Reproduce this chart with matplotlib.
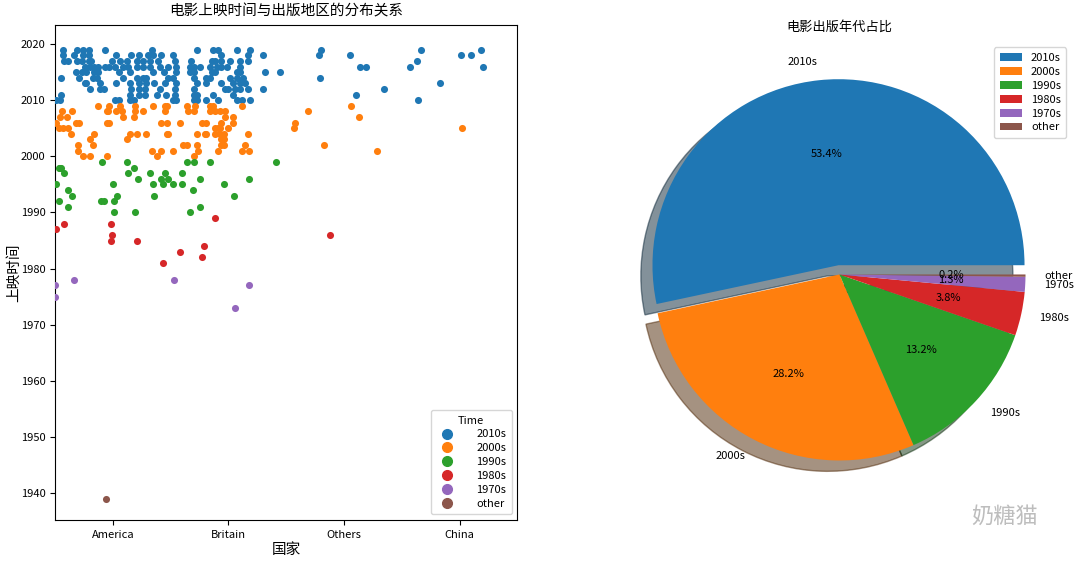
import matplotlib
matplotlib.use("Agg")
import matplotlib.pyplot as plt
from matplotlib.lines import Line2D

plt.rcParams['font.family'] = ['Noto Sans CJK SC', 'DejaVu Sans']
plt.rcParams['axes.unicode_minus'] = False

# ---------------- data ----------------
countries = ['America', 'Britain', 'Others', 'China']
decades = ['2010s', '2000s', '1990s', '1980s', '1970s', 'other']
colors = ['#1f77b4', '#ff7f0e', '#2ca02c', '#d62728', '#9467bd', '#8c564b']

# strip-plot points: release year rows and the (jittered) positions on the country axis
years_2010s = [2019, 2018, 2017, 2016, 2015, 2014, 2013, 2012, 2011, 2010]
pos_2010s = [
    [-0.43, -0.31, -0.26, -0.21, -0.07, 0.34, 0.73, 0.87, 0.91, 1.07, 1.19, 1.80, 2.67, 3.19],
    [-0.43, -0.34, -0.26, -0.21, 0.03, 0.16, 0.23, 0.30, 0.35, 0.42, 0.52, 0.94, 1.17, 1.30, 1.78, 2.05, 3.01, 3.10],
    [-0.42, -0.39, -0.31, -0.27, -0.21, -0.19, -0.01, 0.06, 0.12, 0.21, 0.26, 0.32, 0.39, 0.54, 0.68, 0.86, 0.88,
     0.94, 1.01, 1.10, 1.17, 2.63],
    [-0.24, -0.20, -0.16, -0.13, -0.07, -0.03, 0.02, 0.09, 0.13, 0.21, 0.26, 0.32, 0.41, 0.48, 0.55, 0.67, 0.70,
     0.75, 0.84, 0.90, 0.94, 0.99, 1.10, 2.14, 2.19, 2.57, 3.20],
    [-0.32, -0.27, -0.23, -0.16, -0.13, 0.05, 0.15, 0.35, 0.44, 0.55, 0.67, 0.70, 0.86, 0.88, 1.07, 1.10, 1.32, 1.45],
    [-0.45, -0.29, -0.17, -0.14, 0.09, 0.21, 0.26, 0.29, 0.48, 0.52, 0.70, 0.81, 0.84, 1.01, 1.07, 1.13, 1.79],
    [-0.24, -0.23, -0.11, 0.03, 0.15, 0.23, 0.29, 0.36, 0.45, 0.55, 0.73, 0.81, 0.94, 1.04, 1.10, 1.14, 2.83],
    [-0.20, -0.11, -0.08, 0.16, 0.23, 0.28, 0.41, 0.54, 0.70, 0.97, 1.00, 1.06, 1.10, 1.17, 1.30, 2.35],
    [-0.45, 0.15, 0.23, 0.28, 0.38, 0.46, 0.54, 0.70, 0.73, 0.87, 1.04, 2.10],
    [-0.49, -0.46, 0.02, 0.05, 0.15, 0.18, 0.52, 0.55, 0.70, 0.73, 0.81, 0.91, 1.07, 1.12, 1.19, 2.64],
]
years_2000s = [2009, 2008, 2007, 2006, 2005, 2004, 2003, 2002, 2001, 2000]
pos_2000s = [
    [-0.13, -0.03, 0.06, 0.19, 0.35, 0.45, 0.47, 0.64, 0.71, 0.84, 0.87, 1.12, 2.06],
    [-0.44, -0.35, -0.05, -0.04, 0.03, 0.08, 0.19, 0.26, 0.45, 0.65, 0.70, 0.84, 0.88, 0.93, 0.97, 1.69],
    [-0.46, -0.40, 0.09, 0.18, 0.97, 1.04, 2.13],
    [-0.49, -0.32, -0.29, -0.05, -0.03, 0.42, 0.47, 0.58, 0.77, 0.81, 0.94, 1.04, 1.58],
    [-0.47, -0.43, -0.39, 0.88, 0.91, 0.93, 1.00, 1.57, 3.02],
    [-0.36, -0.16, 0.15, 0.21, 0.29, 0.47, 0.48, 0.73, 0.80, 0.81, 0.88, 0.93, 0.96, 1.17],
    [-0.20, 0.12, 0.94, 0.96],
    [-0.30, -0.17, 0.61, 0.64, 0.73, 0.94, 0.96, 1.14, 1.83],
    [-0.30, 0.34, 0.42, 0.52, 0.74, 0.91, 1.12, 1.18, 2.29],
    [-0.26, -0.20, -0.05, 0.38, 0.70],
]
years_1990s = [1999, 1998, 1997, 1996, 1995, 1994, 1993, 1992, 1991, 1990]
pos_1990s = [
    [-0.09, 0.12, 0.64, 0.70, 0.84, 1.41],
    [-0.47, -0.46, -0.45, 0.18],
    [-0.42, 0.13, 0.32, 0.45, 0.60],
    [0.22, 0.42, 0.48, 0.75, 1.18],
    [-0.49, 0.00, 0.35, 0.43, 0.52, 0.60, 0.96],
    [-0.39, 0.69],
    [-0.35, 0.04, 0.36, 1.05],
    [-0.47, -0.10, -0.08, 0.01],
    [-0.39, 0.75],
    [0.01, 0.19, 0.67],
]
years_1980s = [1989, 1988, 1987, 1986, 1985, 1984, 1983, 1982, 1981]
pos_1980s = [
    [0.88],
    [-0.42, -0.02],
    [-0.49],
    [-0.01, 1.88],
    [-0.02, 0.21],
    [0.79],
    [0.58],
    [0.77],
    [0.43],
]
years_1970s = [1978, 1977, 1975, 1973]
pos_1970s = [
    [-0.34, 0.53],
    [-0.50, 1.18],
    [-0.50],
    [1.06],
]
years_other = [1939]
pos_other = [[-0.06]]

series_years = [years_2010s, years_2000s, years_1990s, years_1980s, years_1970s, years_other]
series_pos = [pos_2010s, pos_2000s, pos_1990s, pos_1980s, pos_1970s, pos_other]

# pie data (share of each release decade, %)
pie_share = [53.4, 28.2, 13.2, 3.8, 1.3, 0.2]
pie_explode = [0.05, 0, 0, 0, 0, 0]

# ---------------- figure ----------------
fig = plt.figure(figsize=(10.8, 5.63), dpi=100)

ax = fig.add_axes([0.051, 0.0764, 0.428, 0.8792])
for name, col, yrs, rows in zip(decades, colors, series_years, series_pos):
    xs, ys = [], []
    for yr, row in zip(yrs, rows):
        xs.extend(row)
        ys.extend([yr] * len(row))
    ax.scatter(xs, ys, s=26, color=col, linewidths=0, zorder=3)

ax.set_xlim(-0.5, 3.5)
ax.set_ylim(1935.2, 2023.4)
ax.set_xticks(range(len(countries)))
ax.set_xticklabels(countries)
ax.set_yticks(range(1940, 2021, 10))
ax.tick_params(labelsize=8)
ax.set_title('电影上映时间与出版地区的分布关系', fontsize=10.5, pad=7)
ax.set_xlabel('国家', fontsize=10.5, labelpad=2)
ax.set_ylabel('上映时间', fontsize=10.5, labelpad=0)

handles = [Line2D([], [], marker='o', linestyle='', markersize=7, color=c) for c in colors]
ax.legend(handles, decades, title='Time', loc='lower right', fontsize=8, title_fontsize=8,
          handletextpad=1.6, borderpad=0.5, labelspacing=0.35)

# pie
ax2 = fig.add_axes([0.562, 0.0995, 0.4306, 0.826])
total = sum(pie_share)
wedges, texts, autotexts = ax2.pie(
    pie_share, labels=decades, colors=colors, explode=pie_explode,
    autopct=lambda p: '%.1f%%' % (p * total / 100.0), startangle=0,
    shadow={'ox': -0.045, 'oy': -0.042}, textprops={'fontsize': 8})
ax2.set_title('电影出版年代占比', fontsize=9.5, pad=8)
ax2.legend(wedges, decades, loc='upper right', fontsize=8, borderpad=0.5, labelspacing=0.35)

fig.text(0.93, 0.083, '奶糖猫', fontsize=16, color='#bdbdbd', ha='center', va='center')

fig.savefig('out.png', dpi=100)
